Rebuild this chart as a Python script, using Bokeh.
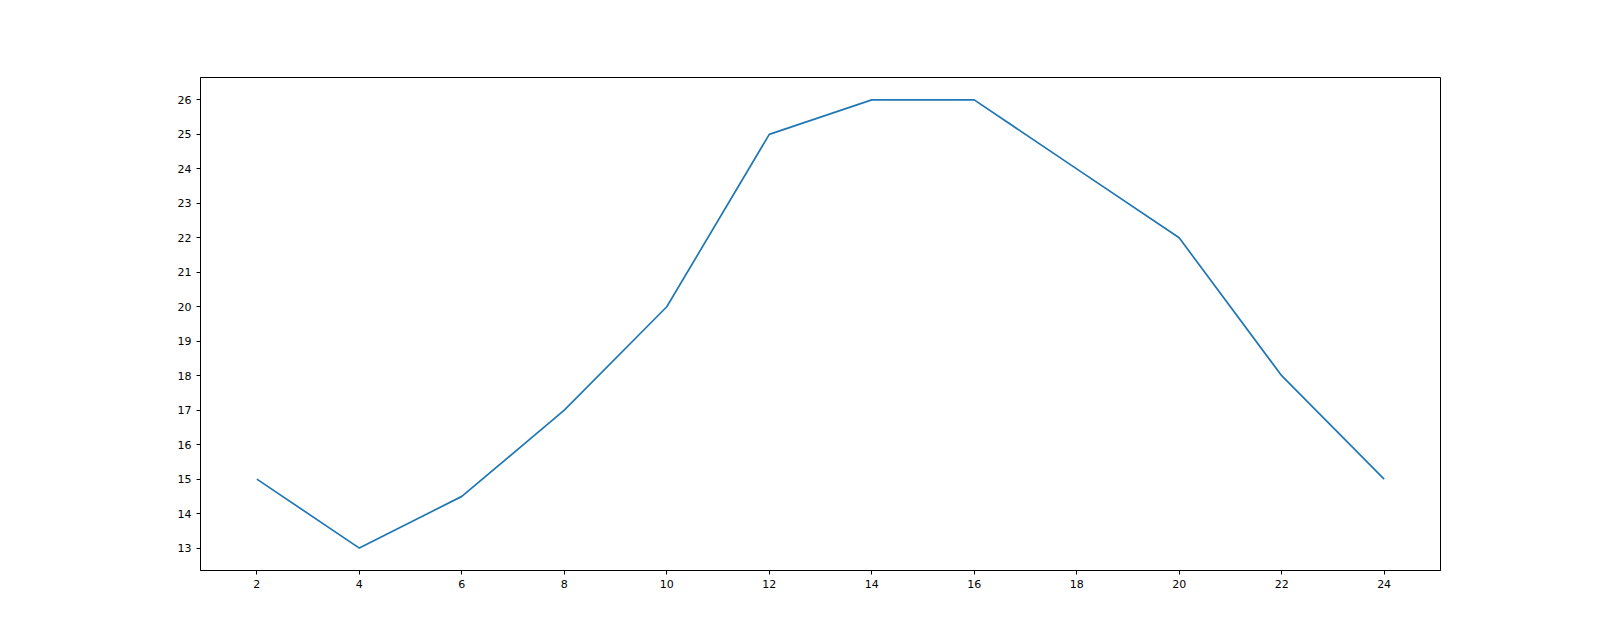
from bokeh.plotting import figure
from bokeh.models import FixedTicker, Range1d
from bokeh.embed import file_html
from bokeh.resources import INLINE

hours = [2, 4, 6, 8, 10, 12, 14, 16, 18, 20, 22, 24]
temps = [15, 13, 14.5, 17, 20, 25, 26, 26, 24, 22, 18, 15]
x_ticks = [2, 4, 6, 8, 10, 12, 14, 16, 18, 20, 22, 24]
y_ticks = [13, 14, 15, 16, 17, 18, 19, 20, 21, 22, 23, 24, 25, 26]

p = figure(frame_width=1240, frame_height=493, output_backend="svg",
           toolbar_location=None,
           x_range=Range1d(0.9, 25.1), y_range=Range1d(12.35, 26.65),
           min_border_left=200, min_border_right=120,
           min_border_top=77, min_border_bottom=70)
p.line(hours, temps, line_color="#1f77b4", line_width=1.7)

p.grid.visible = False
p.outline_line_color = "black"
p.outline_line_width = 1
p.background_fill_color = "white"
p.border_fill_color = "white"

p.xaxis.ticker = FixedTicker(ticks=x_ticks)
p.yaxis.ticker = FixedTicker(ticks=y_ticks)
for ax in (p.xaxis, p.yaxis):
    ax.major_tick_in = 0
    ax.major_tick_out = 4
    ax.minor_tick_line_color = None
    ax.axis_line_color = "black"
    ax.major_tick_line_color = "black"
    ax.major_label_text_font = "DejaVu Sans"
    ax.major_label_text_font_size = "11px"
    ax.major_label_text_color = "black"
    ax.major_label_standoff = 5

open("out.html", "w").write(file_html(p, INLINE))
